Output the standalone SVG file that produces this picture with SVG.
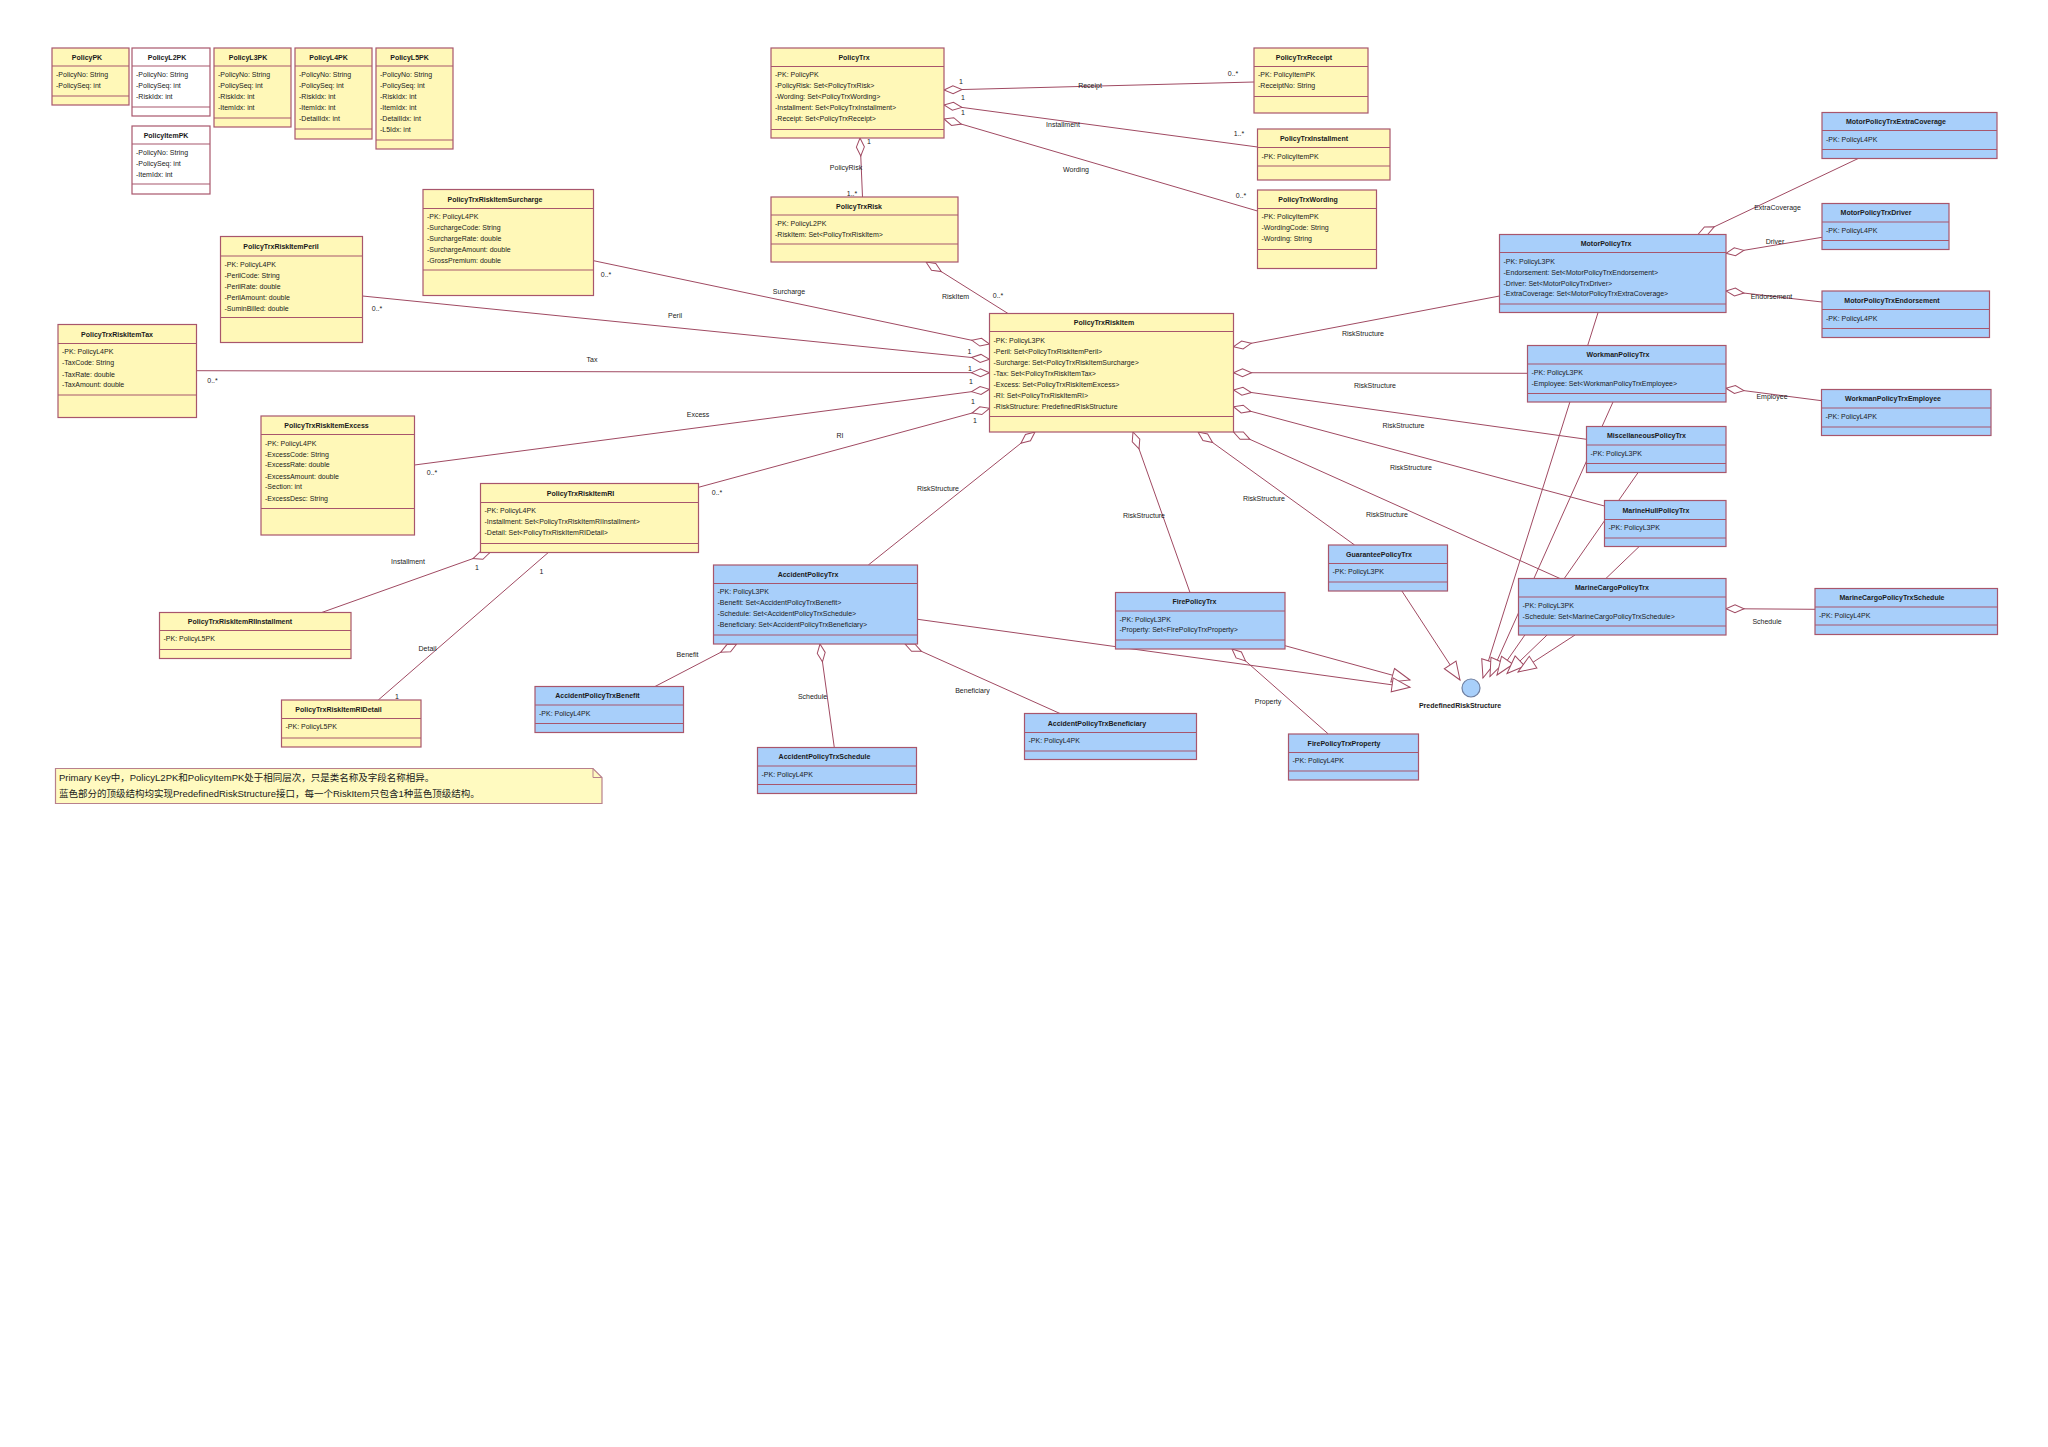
<svg xmlns="http://www.w3.org/2000/svg" width="2048" height="1447" viewBox="0 0 2048 1447">
<defs>
<style>
rect.y{fill:#FFF8B8;stroke:#A8566C;stroke-width:1.2}
rect.b{fill:#A8CFFA;stroke:#A8566C;stroke-width:1.2}
rect.w{fill:#FFFFFF;stroke:#A8566C;stroke-width:1.2}
path.d{fill:none;stroke:#A8566C;stroke-width:1.2}
text{font-family:"Liberation Sans",Arial,sans-serif;font-size:7px;fill:#1a1a1a}
text.t{font-weight:bold;text-anchor:middle}
text.l{text-anchor:middle}
text.n{font-family:"Liberation Sans","Noto Sans CJK SC",sans-serif;font-size:9.5px}
.c path{fill:none;stroke:#A04A62;stroke-width:1}
.c path.ag{marker-start:url(#dia)}
.c path.re{marker-end:url(#tri)}
</style>
<marker id="dia" markerUnits="userSpaceOnUse" markerWidth="20" markerHeight="10" refX="0" refY="4" orient="auto" overflow="visible"><path d="M0,4 L9,0 L18,4 L9,8 Z" fill="#fff" stroke="#A04A62" stroke-width="1"/></marker>
<marker id="tri" markerUnits="userSpaceOnUse" markerWidth="20" markerHeight="16" refX="18" refY="7" orient="auto" overflow="visible"><path d="M0,0 L18,7 L0,14 Z" fill="#fff" stroke="#A04A62" stroke-width="1"/></marker>
</defs>
<rect width="2048" height="1447" fill="#fff"/>

<g id="connectors" class="c">
<path class="ag" d="M944 90 L1254 82"/>
<path class="ag" d="M944 105 L1257.5 147"/>
<path class="ag" d="M944 119 L1257.5 211"/>
<path class="ag" d="M860 138 L862.5 197"/>
<path class="ag" d="M926 262 L1008 313.5"/>
<path class="ag" d="M989.5 344 L593.5 260.7"/>
<path class="ag" d="M989.5 359.3 L362.5 296"/>
<path class="ag" d="M989.5 372.7 L196.5 370.7"/>
<path class="ag" d="M989.5 389.3 L414.5 465"/>
<path class="ag" d="M989.5 408.3 L698.5 487.3"/>
<path class="ag" d="M1233.5 346.7 L1499.5 296"/>
<path class="ag" d="M1233.5 372.7 L1527.5 373.3"/>
<path class="ag" d="M1233.5 390 L1586.5 439.3"/>
<path class="ag" d="M1233.5 406.7 L1604.5 506"/>
<path class="ag" d="M1233.5 432 L1560 578.5"/>
<path class="ag" d="M1035 432 L868.3 565"/>
<path class="ag" d="M1133 432 L1190 592.5"/>
<path class="ag" d="M1198 432 L1354.6 545"/>
<path class="ag" d="M1698 234.5 L1858.6 158.3"/>
<path class="ag" d="M1726 253.3 L1822 237.3"/>
<path class="ag" d="M1726 291 L1822 302"/>
<path class="ag" d="M1726 388.3 L1821.5 400.7"/>
<path class="ag" d="M1726 608.7 L1815 609.3"/>
<path class="ag" d="M490 552.5 L321.7 612.5"/>
<path d="M548.3 552.5 L378.3 700"/>
<path class="ag" d="M736.7 644 L655 686.5"/>
<path class="ag" d="M820 644 L834.3 747.5"/>
<path class="ag" d="M905 644 L1060 713.5"/>
<path class="ag" d="M1232 649 L1328.3 734"/>
<path class="re" d="M1285 645.7 L1410 680"/>
<path class="re" d="M917.7 619.3 L1410 687.3"/>
<path class="re" d="M1401.7 590.7 L1460 680"/>
<path class="re" d="M1598 312.7 L1483 678"/>
<path class="re" d="M1613 402 L1490 676.5"/>
<path class="re" d="M1638 472.7 L1497 675"/>
<path class="re" d="M1639 546.7 L1507 673.5"/>
<path class="re" d="M1575 635 L1518 672"/>
<text class="l" x="961" y="83.5">1</text><text class="l" x="1090" y="88">Receipt</text><text class="l" x="1233" y="75.5">0..*</text>
<text class="l" x="963" y="99.5">1</text><text class="l" x="1063" y="126.5">Installment</text><text class="l" x="1239" y="135.5">1..*</text>
<text class="l" x="963" y="115">1</text><text class="l" x="1076" y="172">Wording</text><text class="l" x="1241" y="197.5">0..*</text>
<text class="l" x="869" y="144">1</text><text class="l" x="846" y="170">PolicyRisk</text><text class="l" x="852" y="196">1..*</text>
<text class="l" x="941" y="254.5">1</text><text class="l" x="955.5" y="299">RiskItem</text><text class="l" x="998" y="298">0..*</text>
<text class="l" x="789" y="293.5">Surcharge</text><text class="l" x="606" y="277">0..*</text>
<text class="l" x="675" y="318">Peril</text><text class="l" x="377" y="311">0..*</text><text class="l" x="969.5" y="354">1</text>
<text class="l" x="592" y="362">Tax</text><text class="l" x="212.5" y="382.5">0..*</text><text class="l" x="970" y="370.5">1</text>
<text class="l" x="698" y="417">Excess</text><text class="l" x="432" y="475">0..*</text><text class="l" x="971" y="384">1</text>
<text class="l" x="840" y="437.5">RI</text><text class="l" x="717" y="495">0..*</text><text class="l" x="973" y="403.5">1</text><text class="l" x="975" y="422.5">1</text>
<text class="l" x="1363" y="336">RiskStructure</text>
<text class="l" x="1375" y="388">RiskStructure</text>
<text class="l" x="1403.5" y="428">RiskStructure</text>
<text class="l" x="1411" y="470">RiskStructure</text>
<text class="l" x="1387" y="516.5">RiskStructure</text>
<text class="l" x="938" y="491">RiskStructure</text>
<text class="l" x="1144" y="518">RiskStructure</text>
<text class="l" x="1264" y="501">RiskStructure</text>
<text class="l" x="1777.5" y="209.5">ExtraCoverage</text>
<text class="l" x="1775" y="244">Driver</text>
<text class="l" x="1771.5" y="299">Endorsement</text>
<text class="l" x="1772" y="398.5">Employee</text>
<text class="l" x="1767" y="623.5">Schedule</text>
<text class="l" x="408" y="563.5">Installment</text><text class="l" x="477" y="569.5">1</text><text class="l" x="338" y="617.5">1..*</text>
<text class="l" x="541.5" y="574">1</text><text class="l" x="427.5" y="651">Detail</text><text class="l" x="397" y="698.5">1</text>
<text class="l" x="687.5" y="657">Benefit</text>
<text class="l" x="812.5" y="699">Schedule</text>
<text class="l" x="972.5" y="692.5">Beneficiary</text>
<text class="l" x="1268" y="703.5">Property</text>
</g>

<g id="PolicyPK"><rect class="y" x="52" y="48" width="77" height="57"/><path class="d" d="M52 66H129M52 96H129"/><text class="t" x="87" y="59.5">PolicyPK</text><text x="56" y="76.5">-PolicyNo: String</text><text x="56" y="87.5">-PolicySeq: int</text></g>
<g id="PolicyL2PK"><rect class="w" x="132" y="48" width="78" height="68"/><path class="d" d="M132 66H210M132 107H210"/><text class="t" x="167" y="59.5">PolicyL2PK</text><text x="136" y="76.5">-PolicyNo: String</text><text x="136" y="87.5">-PolicySeq: int</text><text x="136" y="98.5">-RiskIdx: int</text></g>
<g id="PolicyItemPK"><rect class="w" x="132" y="126" width="78" height="68"/><path class="d" d="M132 144H210M132 184H210"/><text class="t" x="166" y="137.5">PolicyItemPK</text><text x="136" y="154.5">-PolicyNo: String</text><text x="136" y="165.5">-PolicySeq: int</text><text x="136" y="176.5">-ItemIdx: int</text></g>
<g id="PolicyL3PK"><rect class="y" x="214" y="48" width="77" height="79"/><path class="d" d="M214 66H291M214 118H291"/><text class="t" x="248" y="59.5">PolicyL3PK</text><text x="218" y="76.5">-PolicyNo: String</text><text x="218" y="87.5">-PolicySeq: int</text><text x="218" y="98.5">-RiskIdx: int</text><text x="218" y="109.5">-ItemIdx: int</text></g>
<g id="PolicyL4PK"><rect class="y" x="295" y="48" width="77" height="91"/><path class="d" d="M295 66H372M295 129H372"/><text class="t" x="328.5" y="59.5">PolicyL4PK</text><text x="299" y="76.5">-PolicyNo: String</text><text x="299" y="87.5">-PolicySeq: int</text><text x="299" y="98.5">-RiskIdx: int</text><text x="299" y="109.5">-ItemIdx: int</text><text x="299" y="120.5">-DetailIdx: int</text></g>
<g id="PolicyL5PK"><rect class="y" x="376" y="48" width="77" height="101"/><path class="d" d="M376 66H453M376 140H453"/><text class="t" x="409.5" y="59.5">PolicyL5PK</text><text x="380" y="76.5">-PolicyNo: String</text><text x="380" y="87.5">-PolicySeq: int</text><text x="380" y="98.5">-RiskIdx: int</text><text x="380" y="109.5">-ItemIdx: int</text><text x="380" y="120.5">-DetailIdx: int</text><text x="380" y="131.5">-L5Idx: int</text></g>

<g id="PolicyTrx"><rect class="y" x="771" y="48" width="173" height="90"/><path class="d" d="M771 66.5H944M771 129.5H944"/><text class="t" x="854" y="59.5">PolicyTrx</text><text x="775" y="77">-PK: PolicyPK</text><text x="775" y="88">-PolicyRisk: Set&lt;PolicyTrxRisk&gt;</text><text x="775" y="99">-Wording: Set&lt;PolicyTrxWording&gt;</text><text x="775" y="110">-Installment: Set&lt;PolicyTrxInstallment&gt;</text><text x="775" y="121">-Receipt: Set&lt;PolicyTrxReceipt&gt;</text></g>
<g id="PolicyTrxRisk"><rect class="y" x="771" y="197" width="187" height="65"/><path class="d" d="M771 215H958M771 244H958"/><text class="t" x="859" y="208.5">PolicyTrxRisk</text><text x="775" y="226">-PK: PolicyL2PK</text><text x="775" y="237">-RiskItem: Set&lt;PolicyTrxRiskItem&gt;</text></g>
<g id="PolicyTrxReceipt"><rect class="y" x="1254" y="48" width="114" height="65"/><path class="d" d="M1254 66.5H1368M1254 96.5H1368"/><text class="t" x="1304" y="59.5">PolicyTrxReceipt</text><text x="1258" y="77">-PK: PolicyItemPK</text><text x="1258" y="88">-ReceiptNo: String</text></g>
<g id="PolicyTrxInstallment"><rect class="y" x="1257.5" y="129" width="132.5" height="51"/><path class="d" d="M1257.5 147.5H1390M1257.5 166H1390"/><text class="t" x="1314" y="140.5">PolicyTrxInstallment</text><text x="1261.5" y="158.5">-PK: PolicyItemPK</text></g>
<g id="PolicyTrxWording"><rect class="y" x="1257.5" y="190" width="119" height="78.5"/><path class="d" d="M1257.5 208.5H1376.5M1257.5 249.5H1376.5"/><text class="t" x="1308" y="201.5">PolicyTrxWording</text><text x="1261.5" y="219">-PK: PolicyItemPK</text><text x="1261.5" y="230">-WordingCode: String</text><text x="1261.5" y="241">-Wording: String</text></g>

<g id="MotorPolicyTrxExtraCoverage"><rect class="b" x="1822" y="112.5" width="175" height="46"/><path class="d" d="M1822 130.5H1997M1822 149.5H1997"/><text class="t" x="1896" y="124">MotorPolicyTrxExtraCoverage</text><text x="1826" y="141.5">-PK: PolicyL4PK</text></g>
<g id="MotorPolicyTrxDriver"><rect class="b" x="1822" y="203.5" width="127" height="46"/><path class="d" d="M1822 222H1949M1822 240.5H1949"/><text class="t" x="1876" y="215">MotorPolicyTrxDriver</text><text x="1826" y="232.5">-PK: PolicyL4PK</text></g>
<g id="MotorPolicyTrx"><rect class="b" x="1499.5" y="234.5" width="226.5" height="78"/><path class="d" d="M1499.5 252.5H1726M1499.5 304H1726"/><text class="t" x="1606" y="246">MotorPolicyTrx</text><text x="1503.5" y="263.5">-PK: PolicyL3PK</text><text x="1503.5" y="274.5">-Endorsement: Set&lt;MotorPolicyTrxEndorsement&gt;</text><text x="1503.5" y="285.5">-Driver: Set&lt;MotorPolicyTrxDriver&gt;</text><text x="1503.5" y="296">-ExtraCoverage: Set&lt;MotorPolicyTrxExtraCoverage&gt;</text></g>
<g id="MotorPolicyTrxEndorsement"><rect class="b" x="1822" y="291" width="167.5" height="46.5"/><path class="d" d="M1822 309.5H1989.5M1822 328.5H1989.5"/><text class="t" x="1892" y="302.5">MotorPolicyTrxEndorsement</text><text x="1826" y="321">-PK: PolicyL4PK</text></g>

<g id="PolicyTrxRiskItemSurcharge"><rect class="y" x="423" y="189.5" width="170.5" height="106"/><path class="d" d="M423 208.5H593.5M423 270H593.5"/><text class="t" x="495" y="201.5">PolicyTrxRiskItemSurcharge</text><text x="427" y="219">-PK: PolicyL4PK</text><text x="427" y="230">-SurchargeCode: String</text><text x="427" y="241">-SurchargeRate: double</text><text x="427" y="252">-SurchargeAmount: double</text><text x="427" y="263">-GrossPremium: double</text></g>
<g id="PolicyTrxRiskItemPeril"><rect class="y" x="220.5" y="236.5" width="142" height="106"/><path class="d" d="M220.5 256H362.5M220.5 317.5H362.5"/><text class="t" x="281" y="248.5">PolicyTrxRiskItemPeril</text><text x="224.5" y="267">-PK: PolicyL4PK</text><text x="224.5" y="278">-PerilCode: String</text><text x="224.5" y="288.5">-PerilRate: double</text><text x="224.5" y="299.5">-PerilAmount: double</text><text x="224.5" y="310.5">-SuminBilled: double</text></g>
<g id="PolicyTrxRiskItemTax"><rect class="y" x="58" y="324.5" width="138.5" height="93"/><path class="d" d="M58 343.5H196.5M58 395H196.5"/><text class="t" x="117" y="336.5">PolicyTrxRiskItemTax</text><text x="62" y="354">-PK: PolicyL4PK</text><text x="62" y="365">-TaxCode: String</text><text x="62" y="376.5">-TaxRate: double</text><text x="62" y="387">-TaxAmount: double</text></g>
<g id="PolicyTrxRiskItem"><rect class="y" x="989.5" y="313.5" width="244" height="118.5"/><path class="d" d="M989.5 331.5H1233.5M989.5 416.5H1233.5"/><text class="t" x="1104" y="325">PolicyTrxRiskItem</text><text x="993.5" y="343">-PK: PolicyL3PK</text><text x="993.5" y="353.5">-Peril: Set&lt;PolicyTrxRiskItemPeril&gt;</text><text x="993.5" y="364.5">-Surcharge: Set&lt;PolicyTrxRiskItemSurcharge&gt;</text><text x="993.5" y="375.5">-Tax: Set&lt;PolicyTrxRiskItemTax&gt;</text><text x="993.5" y="386.5">-Excess: Set&lt;PolicyTrxRiskItemExcess&gt;</text><text x="993.5" y="397.5">-RI: Set&lt;PolicyTrxRiskItemRI&gt;</text><text x="993.5" y="408.5">-RiskStructure: PredefinedRiskStructure</text></g>
<g id="PolicyTrxRiskItemExcess"><rect class="y" x="261" y="416" width="153.5" height="119"/><path class="d" d="M261 434.5H414.5M261 508.5H414.5"/><text class="t" x="326.5" y="427.5">PolicyTrxRiskItemExcess</text><text x="265" y="446">-PK: PolicyL4PK</text><text x="265" y="456.5">-ExcessCode: String</text><text x="265" y="467">-ExcessRate: double</text><text x="265" y="478.5">-ExcessAmount: double</text><text x="265" y="489">-Section: int</text><text x="265" y="500.5">-ExcessDesc: String</text></g>
<g id="PolicyTrxRiskItemRI"><rect class="y" x="480.5" y="483.5" width="218" height="69"/><path class="d" d="M480.5 502.5H698.5M480.5 543.5H698.5"/><text class="t" x="580.5" y="495.5">PolicyTrxRiskItemRI</text><text x="484.5" y="513">-PK: PolicyL4PK</text><text x="484.5" y="524">-Installment: Set&lt;PolicyTrxRiskItemRIInstallment&gt;</text><text x="484.5" y="535">-Detail: Set&lt;PolicyTrxRiskItemRIDetail&gt;</text></g>
<g id="PolicyTrxRiskItemRIInstallment"><rect class="y" x="159.5" y="612.5" width="191.5" height="46"/><path class="d" d="M159.5 630.5H351M159.5 649.5H351"/><text class="t" x="240" y="624">PolicyTrxRiskItemRIInstallment</text><text x="163.5" y="641">-PK: PolicyL5PK</text></g>
<g id="PolicyTrxRiskItemRIDetail"><rect class="y" x="281.5" y="700" width="139.5" height="47"/><path class="d" d="M281.5 718.5H421M281.5 738H421"/><text class="t" x="338.5" y="711.5">PolicyTrxRiskItemRIDetail</text><text x="285.5" y="729">-PK: PolicyL5PK</text></g>

<g id="AccidentPolicyTrx"><rect class="b" x="713.5" y="565" width="204" height="79"/><path class="d" d="M713.5 583.5H917.5M713.5 635H917.5"/><text class="t" x="808" y="576.5">AccidentPolicyTrx</text><text x="717.5" y="594">-PK: PolicyL3PK</text><text x="717.5" y="605">-Benefit: Set&lt;AccidentPolicyTrxBenefit&gt;</text><text x="717.5" y="616">-Schedule: Set&lt;AccidentPolicyTrxSchedule&gt;</text><text x="717.5" y="627">-Beneficiary: Set&lt;AccidentPolicyTrxBeneficiary&gt;</text></g>
<g id="AccidentPolicyTrxBenefit"><rect class="b" x="535" y="686.5" width="148.5" height="46"/><path class="d" d="M535 705H683.5M535 723.5H683.5"/><text class="t" x="597.5" y="698">AccidentPolicyTrxBenefit</text><text x="539" y="716">-PK: PolicyL4PK</text></g>
<g id="AccidentPolicyTrxSchedule"><rect class="b" x="757.5" y="747.5" width="159" height="46"/><path class="d" d="M757.5 766H916.5M757.5 784.5H916.5"/><text class="t" x="824.5" y="759">AccidentPolicyTrxSchedule</text><text x="761.5" y="776.5">-PK: PolicyL4PK</text></g>
<g id="AccidentPolicyTrxBeneficiary"><rect class="b" x="1024.5" y="713.5" width="172" height="46"/><path class="d" d="M1024.5 732.5H1196.5M1024.5 751H1196.5"/><text class="t" x="1097" y="725.5">AccidentPolicyTrxBeneficiary</text><text x="1028.5" y="742.5">-PK: PolicyL4PK</text></g>
<g id="FirePolicyTrx"><rect class="b" x="1115.5" y="592.5" width="169.5" height="56.5"/><path class="d" d="M1115.5 611H1285M1115.5 640H1285"/><text class="t" x="1194.5" y="604">FirePolicyTrx</text><text x="1119.5" y="621.5">-PK: PolicyL3PK</text><text x="1119.5" y="632">-Property: Set&lt;FirePolicyTrxProperty&gt;</text></g>
<g id="FirePolicyTrxProperty"><rect class="b" x="1288.5" y="734" width="130" height="46"/><path class="d" d="M1288.5 752.5H1418.5M1288.5 771H1418.5"/><text class="t" x="1344" y="745.5">FirePolicyTrxProperty</text><text x="1292.5" y="763">-PK: PolicyL4PK</text></g>
<g id="GuaranteePolicyTrx"><rect class="b" x="1328.5" y="545" width="119" height="46"/><path class="d" d="M1328.5 563.5H1447.5M1328.5 582H1447.5"/><text class="t" x="1379" y="556.5">GuaranteePolicyTrx</text><text x="1332.5" y="574">-PK: PolicyL3PK</text></g>
<g id="WorkmanPolicyTrx"><rect class="b" x="1527.5" y="345.5" width="198.5" height="56.5"/><path class="d" d="M1527.5 364H1726M1527.5 393.5H1726"/><text class="t" x="1618" y="357">WorkmanPolicyTrx</text><text x="1531.5" y="374.5">-PK: PolicyL3PK</text><text x="1531.5" y="386">-Employee: Set&lt;WorkmanPolicyTrxEmployee&gt;</text></g>
<g id="WorkmanPolicyTrxEmployee"><rect class="b" x="1821.5" y="389.5" width="169.5" height="46"/><path class="d" d="M1821.5 408H1991M1821.5 427H1991"/><text class="t" x="1893" y="401">WorkmanPolicyTrxEmployee</text><text x="1825.5" y="418.5">-PK: PolicyL4PK</text></g>
<g id="MiscellaneousPolicyTrx"><rect class="b" x="1586.5" y="426.5" width="139.5" height="46"/><path class="d" d="M1586.5 445H1726M1586.5 463.5H1726"/><text class="t" x="1646.5" y="438">MiscellaneousPolicyTrx</text><text x="1590.5" y="456">-PK: PolicyL3PK</text></g>
<g id="MarineHullPolicyTrx"><rect class="b" x="1604.5" y="500.5" width="121.5" height="46"/><path class="d" d="M1604.5 519.5H1726M1604.5 538H1726"/><text class="t" x="1656" y="512.5">MarineHullPolicyTrx</text><text x="1608.5" y="530">-PK: PolicyL3PK</text></g>
<g id="MarineCargoPolicyTrx"><rect class="b" x="1518.5" y="578.5" width="207.5" height="56.5"/><path class="d" d="M1518.5 597H1726M1518.5 626H1726"/><text class="t" x="1612" y="590">MarineCargoPolicyTrx</text><text x="1522.5" y="608">-PK: PolicyL3PK</text><text x="1522.5" y="618.5">-Schedule: Set&lt;MarineCargoPolicyTrxSchedule&gt;</text></g>
<g id="MarineCargoPolicyTrxSchedule"><rect class="b" x="1815" y="588.5" width="182.5" height="46"/><path class="d" d="M1815 607H1997.5M1815 625H1997.5"/><text class="t" x="1892" y="600">MarineCargoPolicyTrxSchedule</text><text x="1819" y="617.5">-PK: PolicyL4PK</text></g>

<g id="PredefinedRiskStructure"><circle cx="1471" cy="688" r="9" fill="#A8CFFA" stroke="#6F7FA0" stroke-width="1.2"/><text class="t" x="1460" y="708">PredefinedRiskStructure</text></g>

<g id="note"><path d="M55.5 768.5H593L602 777.5V803.5H55.5Z" fill="#FFFAC0" stroke="#B8808C" stroke-width="1.2"/><path d="M593 768.5V777.5H602" fill="none" stroke="#B8808C" stroke-width="1"/><text class="n" x="59" y="781">Primary Key中，PolicyL2PK和PolicyItemPK处于相同层次，只是类名称及字段名称相异。</text><text class="n" x="59" y="797">蓝色部分的顶级结构均实现PredefinedRiskStructure接口，每一个RiskItem只包含1种蓝色顶级结构。</text></g>
</svg>
